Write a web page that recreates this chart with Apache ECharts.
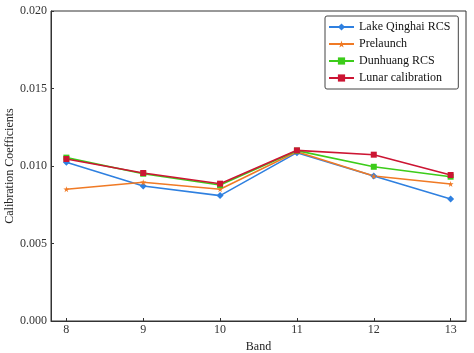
<!DOCTYPE html>
<html>
<head>
<meta charset="utf-8">
<script src="https://cdn.jsdelivr.net/npm/echarts@6/dist/echarts.min.js"></script>
<style>
  html, body { margin: 0; padding: 0; background: #fff; }
  #chart { width: 474px; height: 353px; }
</style>
</head>
<body>
<div id="chart"></div>
<script>
// bands on the x axis
const bands = [8, 9, 10, 11, 12, 13];
// calibration coefficients
const lakeQinghai = [0.01024, 0.00871, 0.00809, 0.01086, 0.00935, 0.00787];
const prelaunch = [0.00850, 0.00895, 0.00850, 0.01092, 0.00935, 0.00884];
const dunhuang = [0.01054, 0.00950, 0.00877, 0.01099, 0.00995, 0.00931];
const lunar = [0.01045, 0.00955, 0.00886, 0.01101, 0.01073, 0.00942];
const yTicks = [0, 0.005, 0.01, 0.015, 0.02];

const font = 'Liberation Serif, DejaVu Serif, serif';
const pairs = (vals) => bands.map((b, i) => [b, vals[i]]);

const chart = echarts.init(document.getElementById('chart'), null, { renderer: 'canvas' });

const mkSeries = (name, vals, color, symbol, size) => ({
  name,
  type: 'line',
  data: pairs(vals),
  symbol,
  symbolSize: size,
  lineStyle: { color, width: 1.6 },
  itemStyle: { color },
  emphasis: { disabled: true },
});

chart.setOption({
  animation: false,
  grid: {
    left: 51, top: 11, right: 8, bottom: 32,
    outerBoundsMode: 'none',
    show: true, borderColor: '#333', borderWidth: 1,
  },
  legend: {
    left: 325, top: 16,
    orient: 'vertical',
    itemWidth: 25, itemHeight: 9, itemGap: 5,
    borderColor: '#444', borderWidth: 1, borderRadius: 2,
    padding: [5, 8, 5, 3],
    textStyle: { fontFamily: font, fontSize: 12, color: '#111' },
    data: ['Lake Qinghai RCS', 'Prelaunch', 'Dunhuang RCS', 'Lunar calibration'],
  },
  xAxis: {
    type: 'value',
    min: 7.8, max: 13.2,
    name: 'Band', nameLocation: 'middle', nameGap: 20,
    nameMoveOverlap: false,
    nameTextStyle: { fontFamily: font, fontSize: 12, color: '#222' },
    axisLine: { lineStyle: { color: '#333' } },
    axisTick: { inside: true, length: 3, customValues: bands, lineStyle: { color: '#333' } },
    axisLabel: { customValues: bands, fontFamily: font, fontSize: 12, color: '#333', margin: 3 },
    splitLine: { show: false },
  },
  yAxis: {
    type: 'value',
    min: 0, max: 0.02, interval: 0.005,
    name: 'Calibration Coefficients', nameLocation: 'middle', nameGap: 35,
    nameMoveOverlap: false,
    nameTextStyle: { fontFamily: font, fontSize: 12, color: '#222' },
    axisLine: { show: true, lineStyle: { color: '#333' } },
    axisTick: { inside: true, length: 3, lineStyle: { color: '#333' } },
    axisLabel: {
      customValues: yTicks,
      fontFamily: font, fontSize: 12, color: '#333', margin: 4,
      formatter: (v) => v.toFixed(3),
    },
    splitLine: { show: false },
  },
  series: [
    mkSeries('Lake Qinghai RCS', lakeQinghai, '#2f80e0', 'diamond', 7),
    mkSeries('Prelaunch', prelaunch, '#f07a25', 'path://M50,0 L61,35 L98,35 L68,57 L79,91 L50,70 L21,91 L32,57 L2,35 L39,35 Z', 6),
    mkSeries('Dunhuang RCS', dunhuang, '#3ccc1a', 'rect', 6),
    mkSeries('Lunar calibration', lunar, '#cc1533', 'rect', 6),
  ],
});
</script>
</body>
</html>
